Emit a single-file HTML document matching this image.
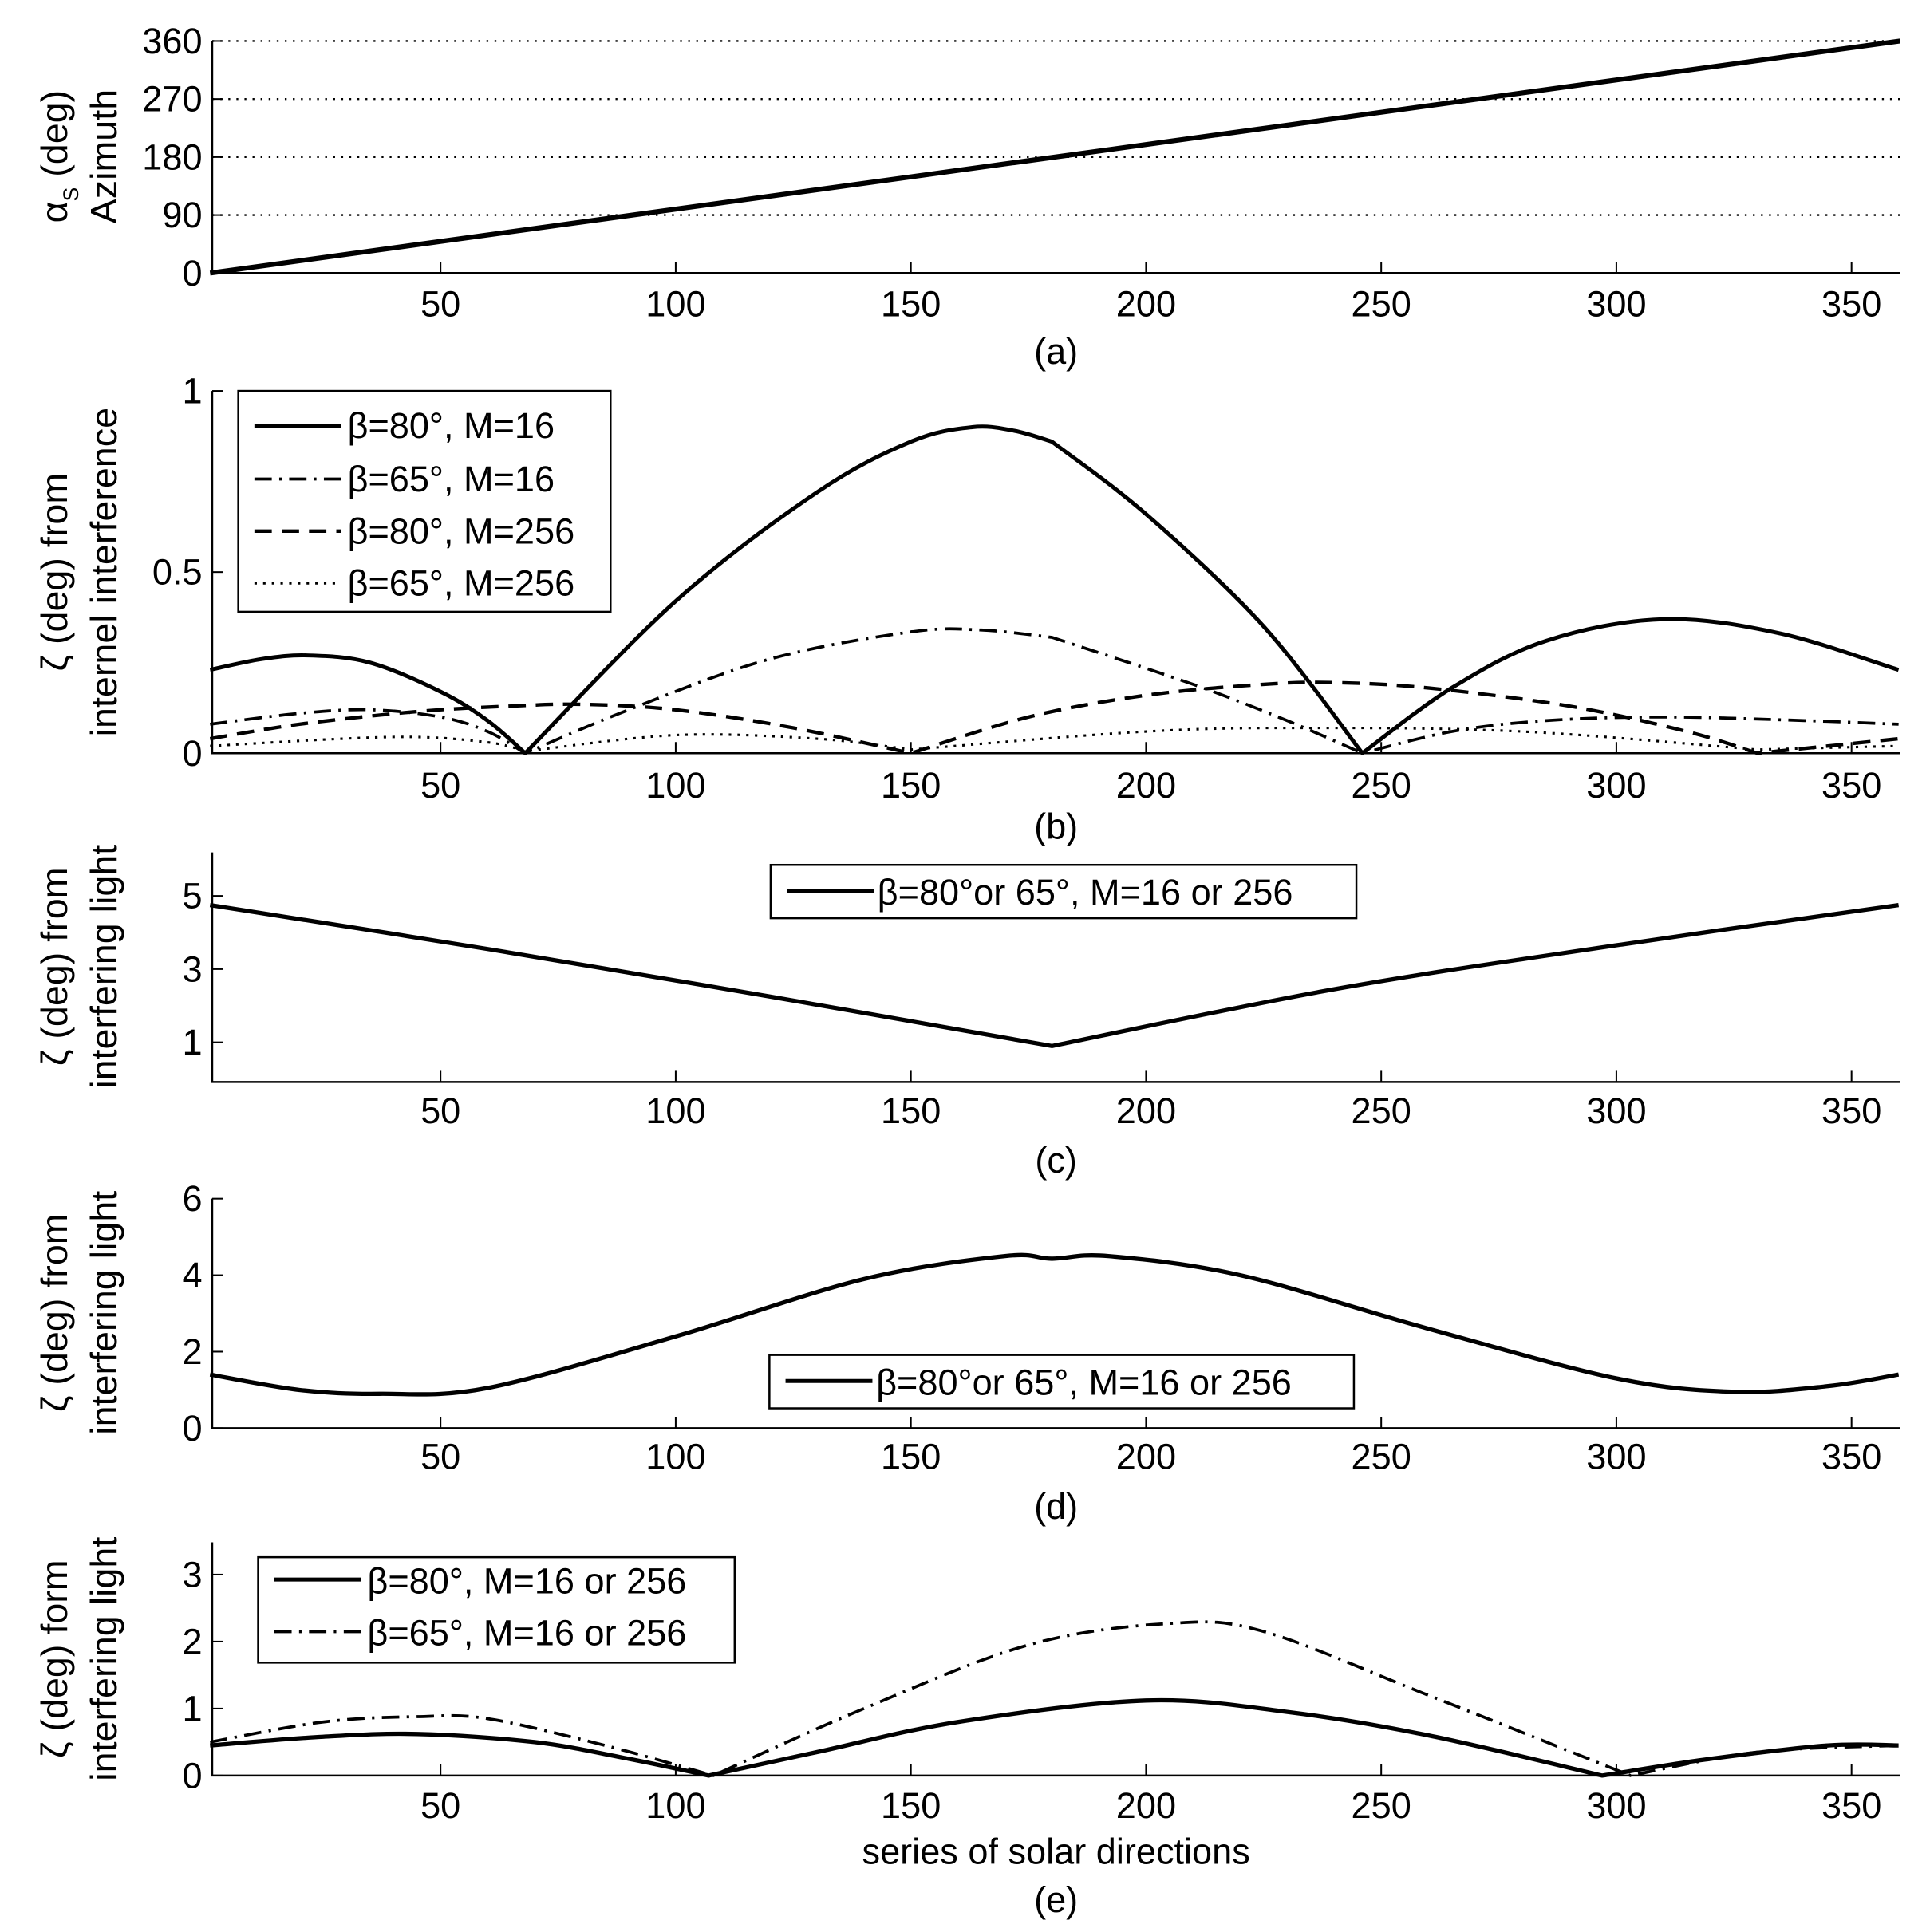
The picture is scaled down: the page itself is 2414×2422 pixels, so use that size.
<!DOCTYPE html>
<html><head><meta charset="utf-8"><style>
html,body{margin:0;padding:0;background:#fff;}
svg{display:block;}
text{font-family:"Liberation Sans",Arial,sans-serif;fill:#000;}
</style></head><body>
<svg id="s" width="2414" height="2422" viewBox="0 0 1552 1557" xmlns="http://www.w3.org/2000/svg">
<rect width="1552" height="1557" fill="#fff"/>
<g id="g"></g>
</svg>
<script>
const X=v=>165.5+3.79*v;
const XL=171,XR=1531;
let out='';
function t(x,y,s,o){o=o||{};out+=`<text x="${x}" y="${y}" font-size="${o.fs||29}" text-anchor="${o.a||'middle'}" ${o.tr?`transform="${o.tr}"`:''}>${s}</text>`;}
function cr(segs,Y){let d='';segs.forEach((p,si)=>{const P=p.map(q=>[X(q[0]),Y(q[1])]);d+=(si?'L':'M')+P[0][0].toFixed(1)+','+P[0][1].toFixed(1);for(let i=0;i<P.length-1;i++){const p0=P[i-1]||P[i],p1=P[i],p2=P[i+1],p3=P[i+2]||P[i+1];const c1=[p1[0]+(p2[0]-p0[0])/6,p1[1]+(p2[1]-p0[1])/6],c2=[p2[0]-(p3[0]-p1[0])/6,p2[1]-(p3[1]-p1[1])/6];d+=`C${c1[0].toFixed(1)},${c1[1].toFixed(1)} ${c2[0].toFixed(1)},${c2[1].toFixed(1)} ${p2[0].toFixed(1)},${p2[1].toFixed(1)}`;}});return d;}
function path(d,w,dash){out+=`<path d="${d}" fill="none" stroke="#000" stroke-width="${w}" ${dash?`stroke-dasharray="${dash}"`:''} stroke-linejoin="round"/>`;}
function axes(top,bot,yt,Y,lblY){out+=`<path d="M${XL},${top}V${bot}H${XR}" fill="none" stroke="#000" stroke-width="1.6"/>`;
 [50,100,150,200,250,300,350].forEach(v=>{out+=`<path d="M${X(v)},${bot}v-9" stroke="#000" stroke-width="1.3"/>`;t(X(v),lblY,v);});
 yt.forEach(v=>{const y=Y(v);out+=`<path d="M${XL},${y}h9" stroke="#000" stroke-width="1.3"/>`;t(XL-8,y+10,v,{a:'end'});});}
function ylab(l1,l2,cy){t(44,cy+10,l1,{fs:30,tr:`rotate(-90 44 ${cy})`});t(84,cy+10,l2,{fs:30,tr:`rotate(-90 84 ${cy})`});}
// (a)
const Ya=v=>220-v*187/360;
[90,180,270,360].forEach(v=>out+=`<path d="M${XL},${Ya(v)}H${XR}" stroke="#000" stroke-width="1.5" stroke-dasharray="1.5 5"/>`);
axes(33,220,[0,90,180,270,360],Ya,255);
path(`M${X(1)},${Ya(0)}L${XR},${Ya(360)}`,4);
t(851,293,'(a)');
out+=`<text x="44" y="136" font-size="30" text-anchor="middle" transform="rotate(-90 44 126)">α<tspan font-size="17" dy="9">S</tspan><tspan dy="-9"> (deg)</tspan></text>`;
t(84,136,'Azimuth',{fs:30,tr:'rotate(-90 84 126)'});
// (b)
const Yb=v=>607-v*292;
axes(315,607,[0,0.5,1],Yb,643);
path(cr([[[1,.23],[12,.26],[22,.27],[35,.25],[50,.17],[60,.09],[68,0]],[[68,0],[100,.42],[130,.72],[150,.86],[163,.9],[172,.89],[180,.86]],[[180,.86],[200,.66],[225,.35],[246,0]],[[246,0],[265,.18],[285,.31],[310,.37],[335,.33],[360,.23]]],Yb),3.2);
path(cr([[[1,.08],[20,.11],[35,.12],[50,.10],[60,.06],[68,0]],[[68,0],[90,.12],[120,.26],[150,.335],[165,.34],[180,.32]],[[180,.32],[210,.19],[230,.09],[246,0]],[[246,0],[265,.06],[285,.09],[310,.10],[340,.09],[360,.08]]],Yb),2.4,'14 6 2 6');
path(cr([[[1,.04],[20,.08],[45,.115],[65,.13],[80,.135],[100,.12],[125,.07],[150,0]],[[150,0],[175,.1],[200,.16],[225,.19],[240,.195],[260,.18],[290,.13],[315,.06],[330,0]],[[330,0],[345,.02],[360,.04]]],Yb),2.8,'14 8');
path(cr([[[1,.02],[40,.045],[60,.03],[68,.005]],[[68,.005],[100,.05],[130,.04],[150,.01]],[[150,.01],[200,.06],[235,.07],[280,.06],[330,.01]],[[330,.01],[360,.02]]],Yb),2,'2 5');
out+=`<rect x="192" y="315" width="300" height="178" fill="#fff" stroke="#000" stroke-width="1.6"/>`;
[[343,'',3.2],[386,'14 6 2 6',2.4],[428,'14 8',2.8],[470,'2 5',2]].forEach(e=>{path(`M205,${e[0]}H275`,e[2],e[1]);});
['β=80°, M=16','β=65°, M=16','β=80°, M=256','β=65°, M=256'].forEach((s,i)=>t(280,[343,386,428,470][i]+10,s,{a:'start',fs:29}));
t(851,676,'(b)');
ylab('ζ (deg) from','internel interference',461);
// (c)
const Yc=v=>840-(v-1)*29.5;
axes(687,872,[1,3,5],Yc,905);
path(cr([[[1,4.75],[60,3.55],[120,2.25],[180,.9]],[[180,.9],[240,2.45],[300,3.65],[360,4.75]]],Yc),3.4);
out+=`<rect x="621" y="697" width="472" height="43" fill="#fff" stroke="#000" stroke-width="1.6"/>`;
path('M634,718H704',3.2);t(707,729,'β=80°or 65°, M=16 or 256',{a:'start',fs:29});
t(851,945,'(c)');
ylab('ζ (deg) from','interfering light',779);
// (d)
const Yd=v=>1151-v*30.83;
axes(966,1151,[0,2,4,6],Yd,1184);
path(cr([[[1,1.4],[20,1.0],[37,.9],[60,1.05],[100,2.4],[140,3.9],[170,4.5],[180,4.43],[192,4.5],[220,4.0],[260,2.6],[300,1.3],[325,.95],[345,1.1],[360,1.4]]],Yd),3.4);
out+=`<rect x="620" y="1092" width="471" height="43" fill="#fff" stroke="#000" stroke-width="1.6"/>`;
path('M633,1113H703',3.2);t(706,1124,'β=80°or 65°, M=16 or 256',{a:'start',fs:29});
t(851,1224,'(d)');
ylab('ζ (deg) from','interfering light',1058);
// (e)
const Ye=v=>1431-v*54;
axes(1243,1431,[0,1,2,3],Ye,1465);
path(cr([[[1,.45],[25,.58],[45,.62],[70,.5],[90,.25],[107,0]],[[107,0],[130,.35],[160,.8],[200,1.12],[230,.95],[260,.6],[297,0]],[[297,0],[320,.25],[345,.45],[360,.45]]],Ye),3.4);
path(cr([[[1,.5],[25,.8],[45,.88],[60,.85],[85,.45],[108,0]],[[108,0],[140,1.0],[175,1.95],[205,2.27],[225,2.15],[260,1.2],[303,0]],[[303,0],[330,.35],[360,.45]]],Ye),2.4,'14 6 2 6');
out+=`<rect x="208" y="1255" width="384" height="85" fill="#fff" stroke="#000" stroke-width="1.6"/>`;
path('M221,1273H291',3.2);path('M221,1315H291',2.4,'14 6 2 6');
t(296,1284,'β=80°, M=16 or 256',{a:'start',fs:29});t(296,1326,'β=65°, M=16 or 256',{a:'start',fs:29});
t(851,1502,'series of solar directions',{fs:29});
t(851,1541,'(e)');
ylab('ζ (deg) form','interfering light',1337);
document.getElementById('g').innerHTML=out;
</script>
</body></html>
